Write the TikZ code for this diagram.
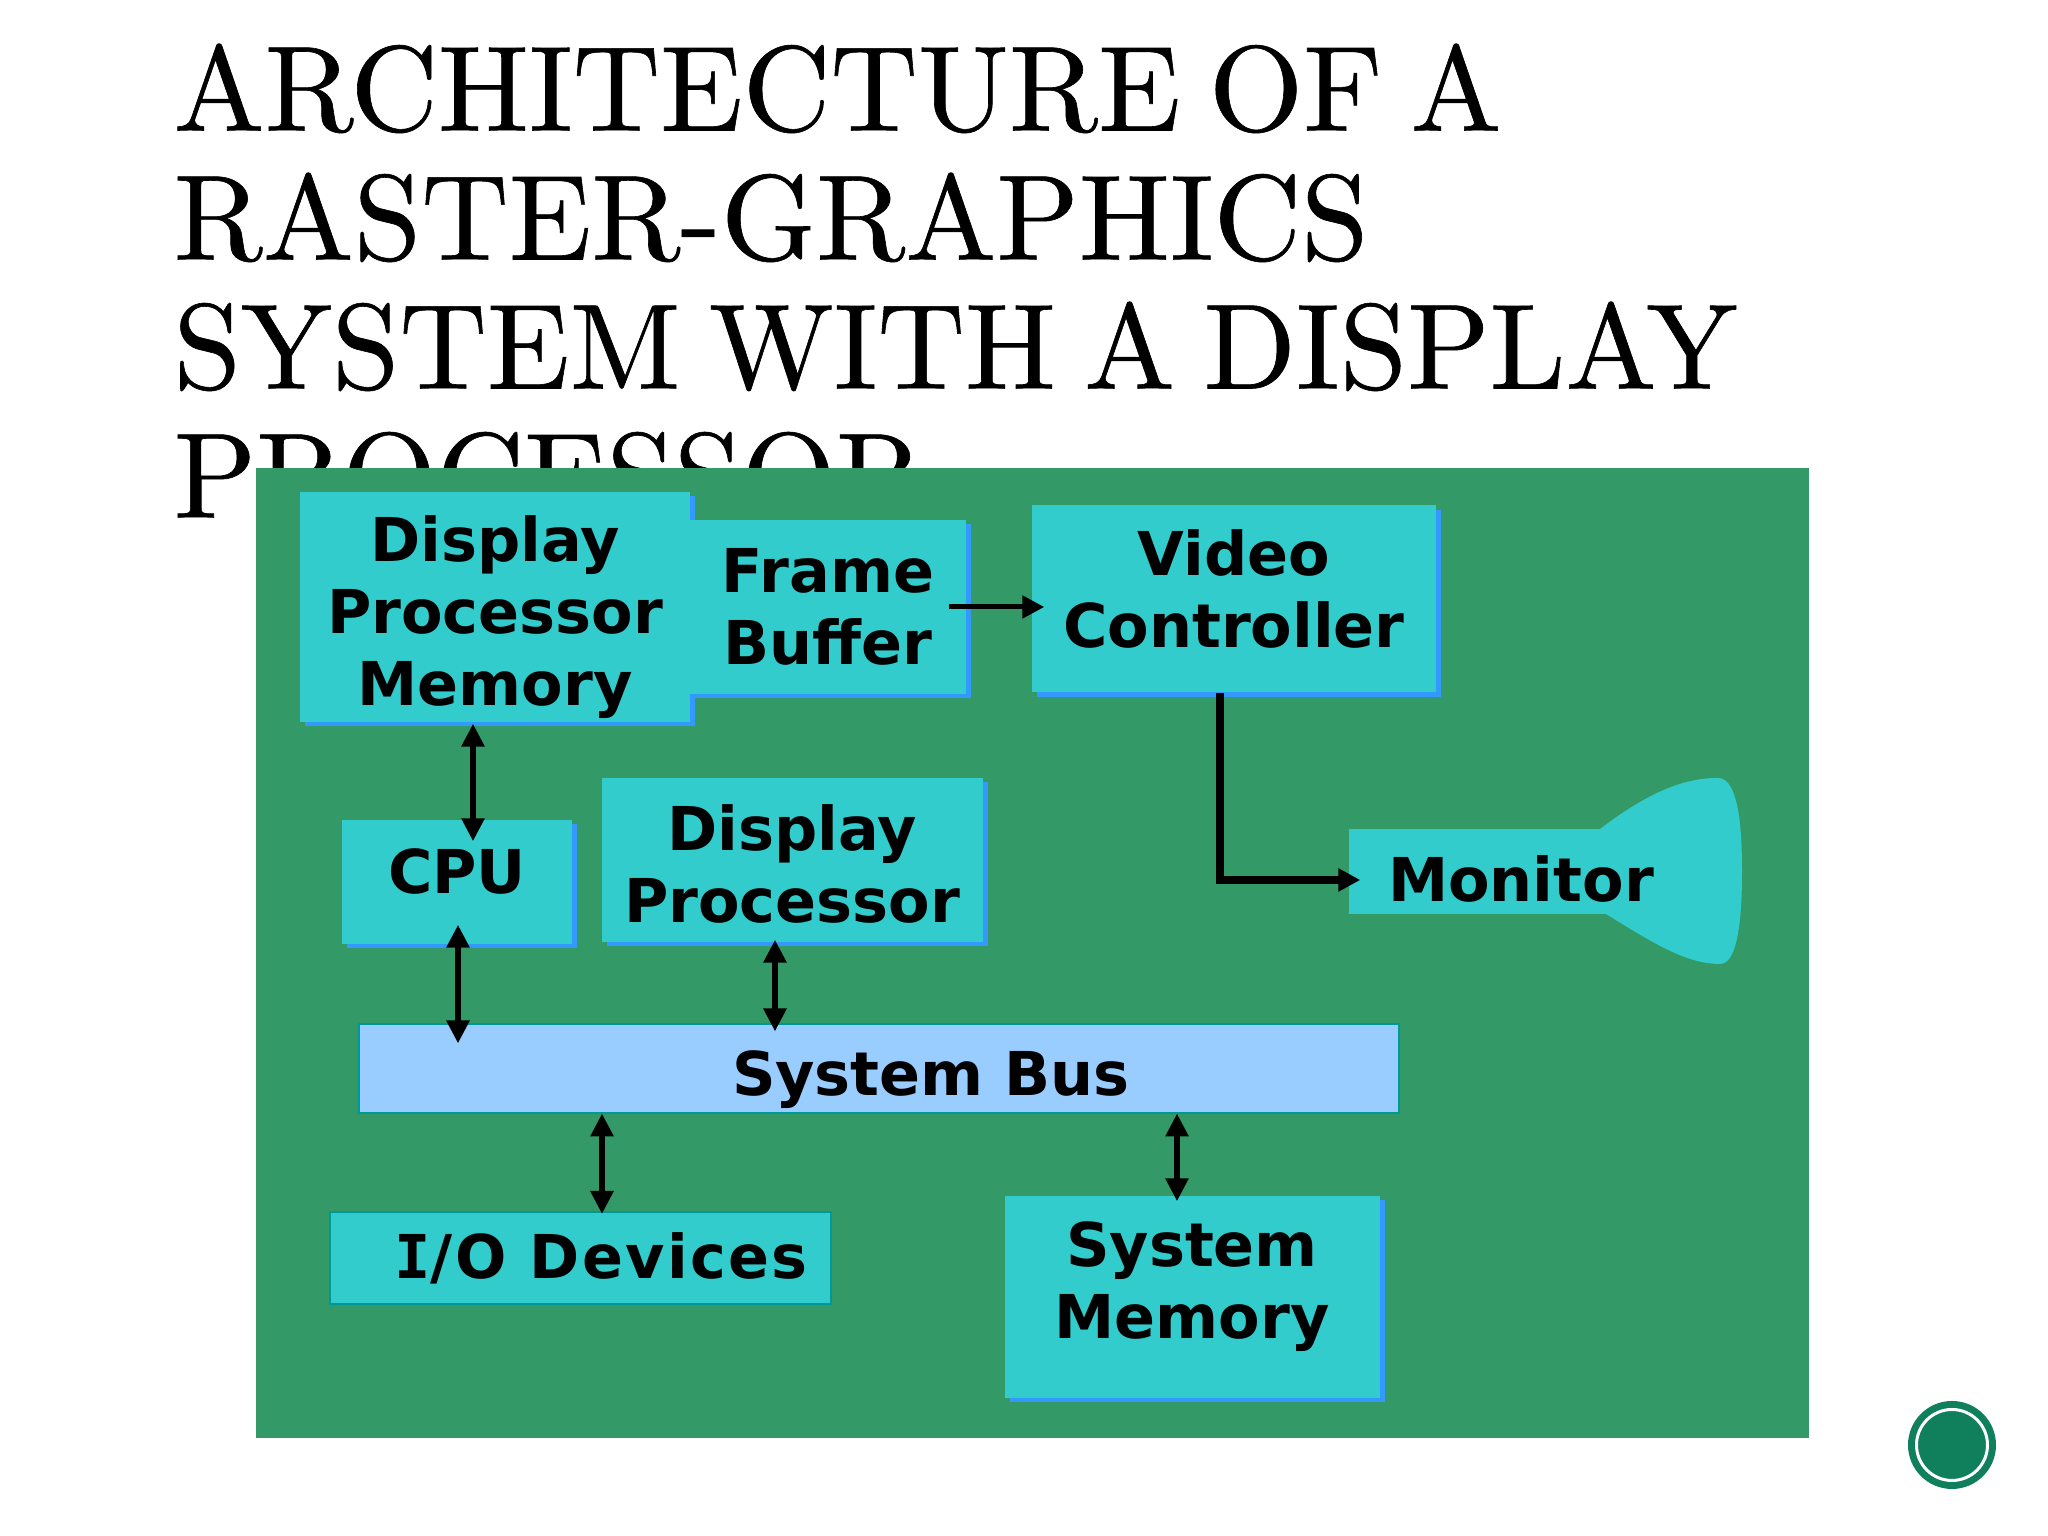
\documentclass[tikz,border=0pt]{standalone}
\usepackage{fontspec}
\newfontfamily\titlefont[FakeBold=0.5,WordSpace=0.7]{lmroman10-regular.otf}
\newfontfamily\boxfont{DejaVu Sans Bold}
\newfontfamily\slabfont{DejaVu Sans Mono Bold}
\usetikzlibrary{arrows.meta,shadows}
\definecolor{slidegreen}{HTML}{339966}
\definecolor{boxteal}{HTML}{33CCCC}
\definecolor{shadowblue}{HTML}{3399FF}
\definecolor{busblue}{HTML}{99CCFF}
\definecolor{edgeteal}{HTML}{009999}
\definecolor{badgegreen}{HTML}{0F7F5C}
\newcommand{\lift}[1]{\rule[-#1]{0pt}{0pt}}
\newcommand{\drop}[1]{\rule{0pt}{#1}}
\tikzset{
	boxlabel/.style={align=center,font=\boxfont\fontsize{17.2}{20.5}\selectfont,inner sep=0pt},
	shadowbox/.style={boxlabel,fill=boxteal,general shadow={shadow xshift=.05cm,shadow yshift=-.045cm,fill=shadowblue}},
	flatbox/.style={boxlabel,fill=#1,draw=edgeteal,line width=.02cm},
	biarrow/.style={line width=.06cm,black,{Triangle[length=.23cm,width=.22cm]}-{Triangle[length=.23cm,width=.22cm]}},
}
\begin{document}
\begin{tikzpicture}
		\useasboundingbox (0,0) rectangle (20.48,15.36);
		%
		\node[anchor=north west,align=left,inner sep=0pt,font=\titlefont\fontsize{34.5}{36.7}\selectfont] (title) at (1.73,14.93)
		{ARCHITECTURE OF A\\RASTER-GRAPHICS\\SYSTEM WITH A DISPLAY\\PROCESSOR};
		\fill[slidegreen] (2.56,.98) rectangle (18.09,10.68);
		%
		\node[shadowbox,minimum width=3.9cm,minimum height=2.3cm] (dpm) at (4.95,9.29) {\drop{.665cm}Display\\Processor\\Memory};
		\node[shadowbox,minimum width=2.76cm,minimum height=1.74cm] (fb) at (8.28,9.29) {Frame\\Buffer};
		\node[shadowbox,minimum width=4.04cm,minimum height=1.87cm] (vc) at (12.34,9.37) {Video\\Controller\lift{.21cm}};
		\node[shadowbox,minimum width=2.3cm,minimum height=1.24cm] (cpu) at (4.57,6.54) {CPU\lift{.21cm}};
		\node[shadowbox,minimum width=3.81cm,minimum height=1.64cm] (dp) at (7.92,6.76) {\drop{.535cm}Display\\Processor};
		\node[shadowbox,minimum width=3.75cm,minimum height=2.02cm] (mem) at (11.92,2.39) {System\\Memory\lift{.34cm}};
		\node[flatbox=busblue,minimum width=10.4cm,minimum height=.89cm] (bus) at (8.79,4.67) {\hspace*{1.04cm}\drop{.665cm}System Bus};
		\node[flatbox=boxteal,minimum width=5.01cm,minimum height=.92cm] (io) at (5.8,2.78) {\hspace*{.42cm}\addfontfeatures{LetterSpace=3.7}{\slabfont I}/O Devices};
		% tube of the monitor
		\fill[boxteal] (16.0,7.07) .. controls (16.5,7.45) and (16.85,7.58) .. (17.18,7.58)
		.. controls (17.4,7.58) and (17.42,7.0) .. (17.42,6.65)
		.. controls (17.42,6.3) and (17.4,5.72) .. (17.2,5.72)
		.. controls (16.85,5.72) and (16.5,5.95) .. (16.06,6.22) -- cycle;
		\node[boxlabel,fill=boxteal,minimum width=3.44cm,minimum height=.85cm] (mon) at (15.21,6.645) {\drop{.615cm}Monitor};
		%
		\coordinate (xa) at (4.73,0);
		\coordinate (xb) at (4.58,0);
		\coordinate (xc) at (7.75,0);
		\coordinate (xd) at (6.02,0);
		\coordinate (xe) at (11.77,0);
		\coordinate (xf) at (12.2,0);
		\coordinate (ym) at (0,6.56);
		\coordinate (yf) at (0,9.29);
		%
		\draw[biarrow,shorten <=.01cm,shorten >=-.22cm] (xa |- dpm.south) -- (xa |- cpu.north);
		\draw[biarrow,shorten <=-.2cm,shorten >=-.2cm] (xb |- cpu.south) -- (xb |- bus.north);
		\draw[biarrow,shorten <=-.03cm,shorten >=-.08cm] (xc |- dp.south) -- (xc |- bus.north);
		\draw[biarrow,shorten <=-.01cm,shorten >=-.03cm] (xd |- bus.south) -- (xd |- io.north);
		\draw[biarrow,shorten <=-.01cm,shorten >=-.06cm] (xe |- bus.south) -- (xe |- mem.north);
		\draw[line width=.05cm,-{Triangle[length=.22cm,width=.22cm]},shorten <=-.18cm,shorten >=-.13cm] (fb.east |- yf) -- (vc.west |- yf);
		\draw[line width=.08cm,-{Triangle[length=.22cm,width=.22cm]},shorten >=-.12cm] (xf |- vc.south) -- (xf |- ym) -- (mon.west |- ym);
		%
		\fill[badgegreen] (19.52,.91) circle (.44);
		\draw[white,line width=.03cm] (19.52,.91) circle (.355);
\end{tikzpicture}
\end{document}
